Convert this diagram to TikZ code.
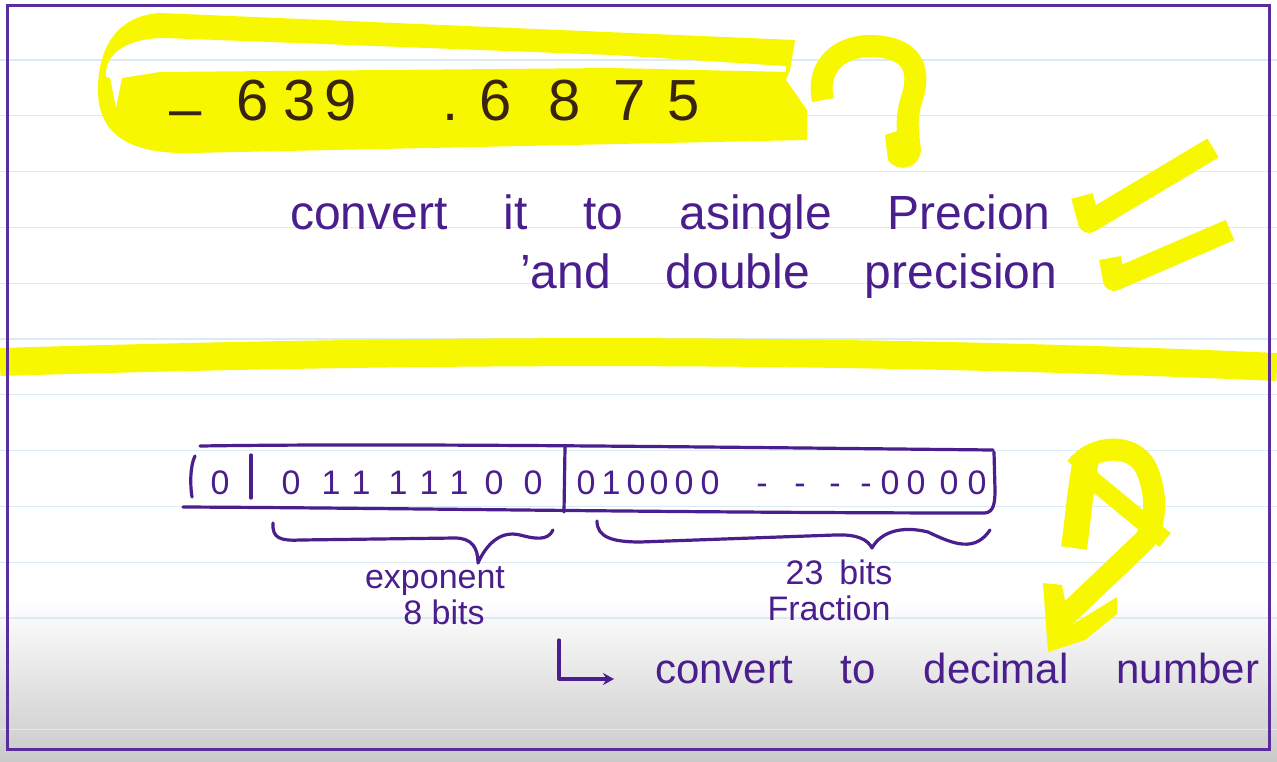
\documentclass[tikz,border=0pt]{standalone}
\usepackage{fontspec}
\setmainfont{Liberation Sans}
\usetikzlibrary{arrows.meta}
\definecolor{ink}{HTML}{4A1E8C}
\definecolor{hl}{HTML}{F7F700}
\definecolor{numink}{HTML}{3A2410}
\definecolor{rulecol}{HTML}{DCEAF4}
\definecolor{framecol}{HTML}{5A2D9E}
\definecolor{shadecol}{HTML}{CACACA}
\tikzset{
  hlstroke/.style={draw=hl, line width=22pt, line cap=butt, line join=round},
  pen/.style={draw=ink, line width=3.2pt, line cap=round, line join=round},
  txt/.style={text=ink, inner sep=0pt, anchor=base west},
  lbl/.style={text=ink, inner sep=0pt, anchor=base, font=\fontsize{34}{40}\selectfont},
  bit/.style={text=ink, inner sep=0pt, anchor=base, font=\fontsize{34}{34}\selectfont},
  num/.style={text=numink, inner sep=0pt, anchor=base, font=\fontsize{58}{60}\selectfont},
}
\begin{document}
\begin{tikzpicture}[x=1pt,y=-1pt]
\useasboundingbox (0,0) rectangle (1277,761);
% paper
\fill[white] (0,0) rectangle (1277,761);
\shade[top color=white, bottom color=shadecol] (0,600) rectangle (1277,761);
\foreach \k in {0,...,12}{
  \draw[rulecol, line width=1.2pt] (0,{60+55.8*\k}) -- (1277,{60+55.8*\k});
}
% yellow highlighter marks
\fill[hl, even odd rule]
  (795,40) -- (160,13) .. controls (115,16) and (98,50) .. (98,90)
  .. controls (98,135) and (130,154) .. (190,153) -- (807,140) -- (807,110)
  -- (786,80) -- (790,70) -- cycle
  (106,77) .. controls (104,55) and (125,38) .. (165,38) -- (612,55) -- (786,66)
  -- (786,72) -- (612,68) -- (160,72) -- (122,78) -- (116,108) -- (110,78) -- cycle;
% question mark
\draw[hlstroke, line width=22pt] (823,100) .. controls (815,62) and (845,45) .. (872,46)
  .. controls (905,47) and (922,62) .. (913,95) .. controls (908,110) and (907,120) .. (908,132);
\fill[hl] (885,135) -- (918,124) -- (921,150) .. controls (919,170) and (897,173) .. (888,160) -- cycle;
% check marks
\draw[hlstroke] (1082,196) -- (1089,222) -- (1213,148);
\draw[hlstroke] (1110,258) -- (1114,280) -- (1230,230);
% horizontal band
\draw[hl, line width=28pt] (0,362) .. controls (400,350) and (800,346) .. (1277,367);
% curly arrow at the bottom right
\draw[hlstroke, line width=26pt] (1074,548) .. controls (1078,520) and (1080,490) .. (1086,460);
\draw[hlstroke] (1076,468) .. controls (1092,445) and (1133,442) .. (1146,468)
  .. controls (1158,495) and (1156,522) .. (1145,540) -- (1063,618);
\draw[hlstroke, line width=18pt] (1090,478) -- (1165,540);
\fill[hl] (1043,583) -- (1062,585) -- (1070,626) -- (1117,597) -- (1117,614)
  -- (1085,640) -- (1048,652) -- cycle;
% frame
\draw[framecol, line width=3pt] (7,5) rectangle (1269,749);

% the number
\node[num] (minus) at (186,128) {–};
\node[num] (d1) at (253,120) {6};
\node[num] (d2) at (300,120) {3};
\node[num] (d3) at (341,120) {9};
\node[num] (pt) at (451,120) {.};
\node[num] (d4) at (496,120) {6};
\node[num] (d5) at (565,120) {8};
\node[num] (d6) at (630,120) {7};
\node[num] (d7) at (684,120) {5};

% text lines
\node[txt, font=\fontsize{48}{56}\selectfont] (line1) at (290,229)
  {\spaceskip=56pt convert it to asingle Precion};
\node[txt, font=\fontsize{48}{56}\selectfont] (line2) at (520,288)
  {\spaceskip=55pt 'and double precision};

% bit box
\coordinate (tl) at (200,446);
\coordinate (tr) at (993,450);
\coordinate (bl) at (183,507);
\coordinate (br) at (985,513);
\draw[pen] (tl) .. controls (400,443) and (700,447) .. (tr);
\draw[pen] (bl) .. controls (400,508) and (700,513) .. (br)
  .. controls (993,512) and (995,505) .. (995,490) -- (994,452);
\draw[pen] (195,456) .. controls (190,466) and (190,485) .. (192,497);
\draw[pen] (251,455) -- (251,498);
\draw[pen] (565,447) -- (564,512);

\node[bit] (s0) at (220,494) {0};
\node[bit] (e1) at (291,494) {0};
\node[bit] (e2) at (331,494) {1};
\node[bit] (e3) at (361,494) {1};
\node[bit] (e4) at (398,494) {1};
\node[bit] (e5) at (429,494) {1};
\node[bit] (e6) at (459,494) {1};
\node[bit] (e7) at (494,494) {0};
\node[bit] (e8) at (533,494) {0};
\node[bit] (f1) at (586,494) {0};
\node[bit] (f2) at (611,494) {1};
\node[bit] (f3) at (636,494) {0};
\node[bit] (f4) at (659,494) {0};
\node[bit] (f5) at (684,494) {0};
\node[bit] (f6) at (710,494) {0};
\node[bit] (g1) at (762,494) {-};
\node[bit] (g2) at (800,494) {-};
\node[bit] (g3) at (835,494) {-};
\node[bit] (g4) at (866,494) {-};
\node[bit] (f7) at (890,494) {0};
\node[bit] (f8) at (916,494) {0};
\node[bit] (f9) at (949,494) {0};
\node[bit] (f10) at (977,494) {0};

% braces
\draw[pen] (273,523) .. controls (272,538) and (280,541) .. (300,540) -- (455,538)
  .. controls (472,538) and (478,548) .. (478,563)
  .. controls (486,545) and (500,530) .. (520,535) .. controls (535,539) and (548,541) .. (553,530);
\draw[pen] (597,521) .. controls (597,537) and (612,542) .. (640,542) -- (835,535)
  .. controls (858,534) and (868,540) .. (872,548)
  .. controls (880,533) and (900,525) .. (928,532) .. controls (955,545) and (975,552) .. (990,530);

\node[lbl] (explbl) at (435,588) {exponent};
\node[lbl] (expbits) at (444,624) {8 bits};
\node[lbl] (fracbits) at (839,584) {\spaceskip=16pt 23 bits};
\node[lbl] (fraclbl) at (829,620) {Fraction};

% bottom line
\coordinate (lstart) at (559,640);
\coordinate (lend) at (614,679);
\draw[pen, -{Stealth[length=11pt,width=12pt]}] (lstart) |- (lend);
\node[txt, font=\fontsize{42}{50}\selectfont] (line3) at (655,683)
  {\spaceskip=48pt convert to decimal number};
\end{tikzpicture}
\end{document}
